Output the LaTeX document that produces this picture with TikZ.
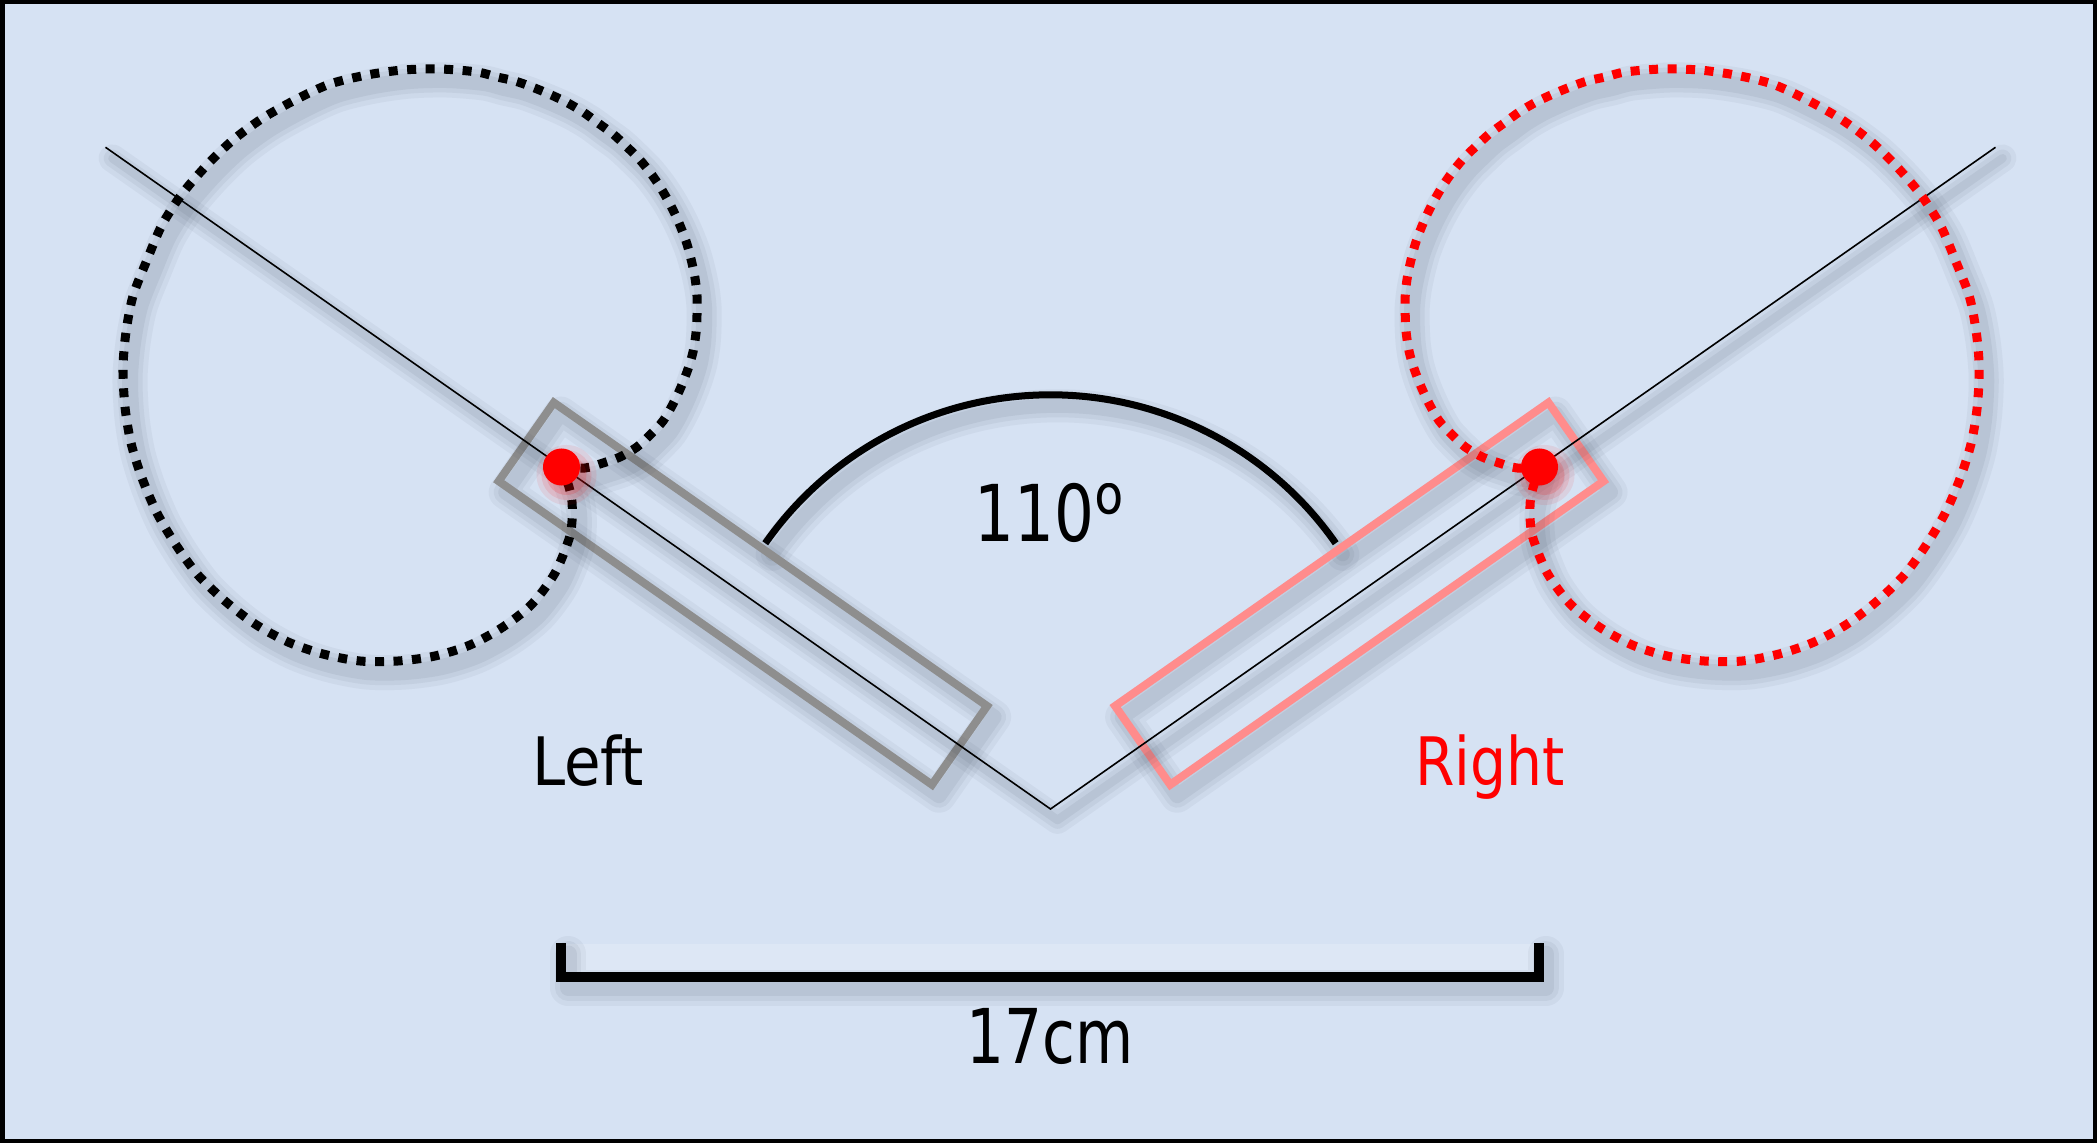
\documentclass[tikz,border=0pt]{standalone}
\usepackage{fontspec}
\usepackage{graphicx}
\usepackage{trimclip}
\newfontfamily\lblfont{DejaVu Sans}
\definecolor{bgc}{RGB}{214,226,243}
\definecolor{rectgray}{RGB}{142,142,142}
\definecolor{rectpink}{RGB}{255,140,140}
\definecolor{shc}{RGB}{45,55,75}
\tikzset{
  shad/.style={
    preaction={draw=shc, draw opacity=0.05, solid, line width=#1+0.26cm, line cap=round, line join=round, transform canvas={shift={(0.07cm,-0.11cm)}}},
    preaction={draw=shc, draw opacity=0.06, solid, line width=#1+0.16cm, line cap=round, line join=round, transform canvas={shift={(0.07cm,-0.11cm)}}},
    preaction={draw=shc, draw opacity=0.07, solid, line width=#1+0.07cm, line cap=round, line join=round, transform canvas={shift={(0.07cm,-0.11cm)}}}},
  thinline/.style={shad=0.016cm, line width=0.016cm, black},
  looppath/.style={shad=0.09cm, line width=0.09cm, dash pattern=on 0.09cm off 0.095cm},
  boxpath/.style={shad=0.08cm, line width=0.08cm, line join=miter},
  reddot/.style={circle, fill=red, draw=none, inner sep=0pt, minimum size=0.37cm},
  lbl/.style={anchor=base, inner sep=0pt, font=\lblfont},
}
\begin{document}
\begin{tikzpicture}[x=0.01cm, y=-0.01cm]
\useasboundingbox (0,0) rectangle (2097,1143);
\fill[bgc] (0,0) rectangle (2097,1143);

\coordinate (V) at (1050.5,809);
\coordinate (LE) at (105.5,147.3);
\coordinate (RE) at (1995.5,147.3);
\coordinate (DL) at (561.5,467);
\coordinate (DR) at (1539.5,467);
\coordinate (AC) at (1050.5,743);

% angle arc
\draw[shad=0.07cm, line width=0.07cm] ([shift={(35:3.48cm)}]AC) arc[start angle=35, end angle=145, radius=3.48cm];

% rectangles
\draw[boxpath, rectgray] (498.7,481.2) -- (553.8,402.6) -- (987.1,706.0) -- (932.0,784.7) -- cycle;
\begin{scope}[xshift=21.01cm, xscale=-1]
\draw[boxpath, rectpink] (498.7,481.2) -- (553.8,402.6) -- (987.1,706.0) -- (932.0,784.7) -- cycle;
\end{scope}

% axis lines
\draw[thinline] (LE) -- (V) -- (RE);

% dotted loops
\draw[looppath, black] plot[smooth] coordinates {(562,467) (585,468) (603,463) (620,457) (637,447) (651,434) (663,421) (673,404) (681,387) (688,369) (693,352) (696,333) (697,315) (697,296) (695,278) (691,259) (686,241) (679,223) (671,206) (662,190) (652,175) (640,160) (627,147) (613,134) (598,123) (583,112) (566,102) (549,94) (532,87) (515,81) (497,77) (477,72) (440,69) (403,70) (367,75) (330,84) (297,99) (263,118) (233,140) (207,165) (182,194) (162,225) (147,260) (133,296) (126,332) (123,368) (125,407) (131,443) (142,478) (157,513) (176,545) (198,575) (225,601) (255,624) (288,642) (323,654) (360,661) (398,661) (435,656) (470,645) (503,627) (532,604) (555,573) (569,539) (572,521) (572,502) (569,487) (562,467)};
\begin{scope}[xshift=21.01cm, xscale=-1]
\draw[looppath, red] plot[smooth] coordinates {(562,467) (585,468) (603,463) (620,457) (637,447) (651,434) (663,421) (673,404) (681,387) (688,369) (693,352) (696,333) (697,315) (697,296) (695,278) (691,259) (686,241) (679,223) (671,206) (662,190) (652,175) (640,160) (627,147) (613,134) (598,123) (583,112) (566,102) (549,94) (532,87) (515,81) (497,77) (477,72) (440,69) (403,70) (367,75) (330,84) (297,99) (263,118) (233,140) (207,165) (182,194) (162,225) (147,260) (133,296) (126,332) (123,368) (125,407) (131,443) (142,478) (157,513) (176,545) (198,575) (225,601) (255,624) (288,642) (323,654) (360,661) (398,661) (435,656) (470,645) (503,627) (532,604) (555,573) (569,539) (572,521) (572,502) (569,487) (562,467)};
\end{scope}

% red dots with glow
\foreach \r/\o in {0.30/0.08, 0.25/0.10, 0.20/0.14} {
  \fill[red, fill opacity=\o] ([shift={(0.05cm,-0.08cm)}]DL) circle (\r cm);
  \fill[red, fill opacity=\o] ([shift={(0.05cm,-0.08cm)}]DR) circle (\r cm);
}
\node[reddot] (dotL) at (DL) {};
\node[reddot] (dotR) at (DR) {};

% scale bar
\fill[white, fill opacity=0.18] (566,944) rectangle (1534,972);
\draw[shad=0.1cm, line width=0.1cm, line join=miter] (561.3,943) -- (561.3,976.7) -- (1538.7,976.7) -- (1538.7,943);

% labels
\node[lbl] (angtxt) at (1049,541.5) {\fontsize{22.3}{24}\selectfont\scalebox{0.80}[1]{110\raisebox{0.35em}{\clipbox{0pt 0.35em 0pt 0pt}{º}}}};
\node[lbl] (lentxt) at (1050.5,1063) {\fontsize{21.5}{24}\selectfont\scalebox{0.79}[1]{17cm}};
\node[lbl] (lefttxt) at (588,785) {\fontsize{19}{22}\selectfont\scalebox{0.89}[1]{Left}};
\node[lbl, text=red] (righttxt) at (1490,785) {\fontsize{19}{22}\selectfont\scalebox{0.85}[1]{Right}};

% frame
\draw[line width=0.045cm] (2.25,2.25) rectangle (2094.75,1140.75);
\end{tikzpicture}
\end{document}
